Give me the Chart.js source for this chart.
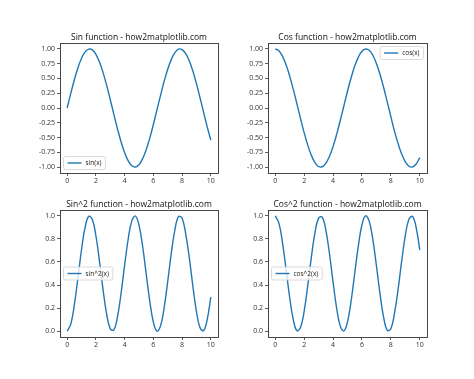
<!DOCTYPE html>
<html><head><meta charset="utf-8">
<script src="https://cdn.jsdelivr.net/npm/chart.js@4.4.0/dist/chart.umd.min.js"></script>
<style>
html,body{margin:0;padding:0;background:#fff;width:474px;height:379px;overflow:hidden;position:relative}
canvas{position:absolute}
</style></head><body>
<canvas id="c0"></canvas><canvas id="c1"></canvas><canvas id="c2"></canvas><canvas id="c3"></canvas>
<script>
const xValues = [0,0.25,0.5,0.75,1,1.25,1.5,1.75,2,2.25,2.5,2.75,3,3.25,3.5,3.75,4,4.25,4.5,4.75,5,5.25,5.5,5.75,6,6.25,6.5,6.75,7,7.25,7.5,7.75,8,8.25,8.5,8.75,9,9.25,9.5,9.75,10];
const sinValues = [0,0.247,0.479,0.682,0.841,0.949,0.997,0.984,0.909,0.778,0.598,0.382,0.141,-0.108,-0.351,-0.572,-0.757,-0.895,-0.978,-0.999,-0.959,-0.859,-0.706,-0.510,-0.279,-0.033,0.215,0.450,0.657,0.823,0.938,0.996,0.989,0.920,0.798,0.625,0.412,0.174,-0.075,-0.319,-0.544];
const cosValues = [1,0.969,0.878,0.732,0.540,0.315,0.071,-0.178,-0.416,-0.628,-0.801,-0.924,-0.990,-0.994,-0.936,-0.820,-0.654,-0.446,-0.211,0.038,0.284,0.512,0.709,0.861,0.960,0.999,0.977,0.893,0.754,0.568,0.347,0.104,-0.146,-0.392,-0.602,-0.780,-0.911,-0.985,-0.997,-0.948,-0.839];
const sin2Values = [0,0.061,0.230,0.465,0.708,0.901,0.995,0.968,0.827,0.605,0.358,0.146,0.020,0.012,0.123,0.327,0.573,0.801,0.956,0.998,0.919,0.738,0.498,0.260,0.078,0.001,0.046,0.203,0.432,0.677,0.880,0.992,0.979,0.846,0.637,0.391,0.170,0.030,0.006,0.102,0.296];
const cos2Values = [1,0.939,0.770,0.535,0.292,0.099,0.005,0.032,0.173,0.395,0.642,0.854,0.980,0.988,0.877,0.673,0.427,0.199,0.044,0.002,0.081,0.262,0.502,0.740,0.922,0.999,0.954,0.797,0.568,0.323,0.120,0.008,0.021,0.154,0.363,0.609,0.830,0.970,0.994,0.898,0.704];
const xTicks = [0,2,4,6,8,10];
const yTicksTrig = [-1,-0.75,-0.5,-0.25,0,0.25,0.5,0.75,1];
const yTicksSquare = [0,0.2,0.4,0.6,0.8,1];
const titles = ['Sin function - how2matplotlib.com','Cos function - how2matplotlib.com','Sin^2 function - how2matplotlib.com','Cos^2 function - how2matplotlib.com'];
const seriesLabels = ['sin(x)','cos(x)','sin^2(x)','cos^2(x)'];

const FONT = "'Open Sans', 'DejaVu Sans', sans-serif";
const LINE = '#1f77b4';
const panels = [
  {id:'c0', box:{l:60,r:218,t:43,b:173}, values:sinValues, yTicks:yTicksTrig, ymin:-1.1, ymax:1.1, dec:2, loc:'lower left'},
  {id:'c1', box:{l:268,r:427,t:43,b:173}, values:cosValues, yTicks:yTicksTrig, ymin:-1.1, ymax:1.1, dec:2, loc:'upper right'},
  {id:'c2', box:{l:60,r:218,t:210,b:337}, values:sin2Values, yTicks:yTicksSquare, ymin:-0.05, ymax:1.05, dec:1, loc:'center left'},
  {id:'c3', box:{l:268,r:427,t:210,b:337}, values:cos2Values, yTicks:yTicksSquare, ymin:-0.05, ymax:1.05, dec:1, loc:'center left'}
];
const PADL = 50, PADT = 40, PADR = 12, XH = 20;

panels.forEach((p, i) => {
  const cv = document.getElementById(p.id);
  const w = (p.box.r - p.box.l) + PADL + PADR;
  const h = (p.box.b - p.box.t) + PADT + XH;
  cv.width = w; cv.height = h;
  cv.style.left = (p.box.l - PADL) + 'px';
  cv.style.top = (p.box.t - PADT) + 'px';
  cv.style.width = w + 'px'; cv.style.height = h + 'px';

  const decor = {
    id: 'decor' + i,
    afterDraw(chart) {
      const ctx = chart.ctx, a = chart.chartArea;
      ctx.save();
      ctx.strokeStyle = '#333';
      ctx.lineWidth = 0.9;
      ctx.strokeRect(Math.round(a.left) + 0.5, Math.round(a.top) + 0.5, Math.round(a.right - a.left), Math.round(a.bottom - a.top));
      ctx.fillStyle = '#111';
      ctx.font = '8.5px ' + FONT;
      ctx.textAlign = 'center';
      ctx.textBaseline = 'middle';
      ctx.fillText(titles[i], (a.left + a.right) / 2, a.top - 5);
      ctx.font = '6.5px ' + FONT;
      const label = seriesLabels[i];
      const tw = ctx.measureText(label).width;
      const bw = 4 + 14 + 4 + tw + 4, bh = 13, inset = 3.5;
      let bx, by;
      if (p.loc === 'lower left') { bx = a.left + inset; by = a.bottom - inset - bh; }
      else if (p.loc === 'upper right') { bx = a.right - inset - bw; by = a.top + inset; }
      else { bx = a.left + inset; by = (a.top + a.bottom) / 2 - bh / 2; }
      ctx.beginPath();
      ctx.roundRect(bx, by, bw, bh, 2);
      ctx.fillStyle = 'rgba(255,255,255,0.8)';
      ctx.fill();
      ctx.strokeStyle = '#d0d0d0';
      ctx.lineWidth = 0.8;
      ctx.stroke();
      ctx.beginPath();
      ctx.moveTo(bx + 4, by + bh / 2);
      ctx.lineTo(bx + 18, by + bh / 2);
      ctx.strokeStyle = LINE;
      ctx.lineWidth = 1.4;
      ctx.stroke();
      ctx.fillStyle = '#222';
      ctx.textAlign = 'left';
      ctx.textBaseline = 'middle';
      ctx.fillText(label, bx + 22, by + bh / 2 + 0.5);
      ctx.restore();
    }
  };

  new Chart(cv, {
    type: 'line',
    data: {
      datasets: [{
        label: seriesLabels[i],
        data: xValues.map((x, k) => ({x: x, y: p.values[k]})),
        borderColor: LINE,
        borderWidth: 1.4,
        pointRadius: 0,
        tension: 0.4,
        fill: false
      }]
    },
    options: {
      responsive: false,
      animation: false,
      devicePixelRatio: 1,
      layout: {padding: {left: 0, top: PADT, right: PADR, bottom: 0}},
      plugins: {legend: {display: false}, title: {display: false}, tooltip: {enabled: false}},
      scales: {
        x: {
          type: 'linear', min: -0.5, max: 10.5,
          afterBuildTicks: s => { s.ticks = xTicks.map(v => ({value: v})); },
          afterFit: s => { s.height = XH; },
          ticks: {font: {family: FONT, size: 7}, color: '#333', padding: 1, maxRotation: 0, autoSkip: false, callback: v => String(v)},
          grid: {drawOnChartArea: false, drawTicks: true, tickLength: 3, color: '#333', lineWidth: 0.8},
          border: {display: false}
        },
        y: {
          type: 'linear', min: p.ymin, max: p.ymax,
          afterBuildTicks: s => { s.ticks = p.yTicks.map(v => ({value: v})); },
          afterFit: s => { s.width = PADL; },
          ticks: {font: {family: FONT, size: 7}, color: '#333', padding: 2, autoSkip: false, callback: v => Number(v).toFixed(p.dec)},
          grid: {drawOnChartArea: false, drawTicks: true, tickLength: 3, color: '#333', lineWidth: 0.8},
          border: {display: false}
        }
      }
    },
    plugins: [decor]
  });
});
</script>
</body></html>
